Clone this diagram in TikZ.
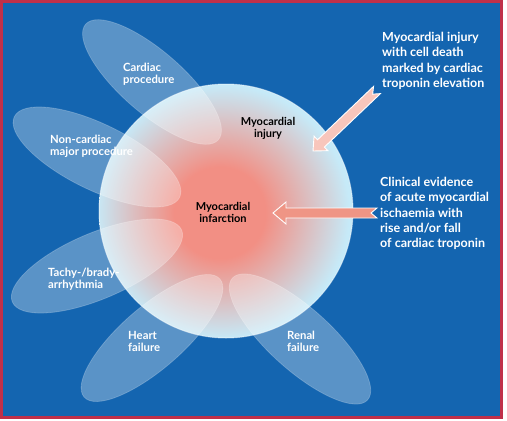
\documentclass[tikz,border=0pt]{standalone}
\usepackage{fontspec}
\setmainfont{Lato}
\usetikzlibrary{calc}
\definecolor{bgblue}{HTML}{1465B0}
\definecolor{framered}{HTML}{C0304A}
\definecolor{salmon}{HTML}{F28F84}
\definecolor{paleblue}{HTML}{C6EAF8}
\definecolor{arrowA}{HTML}{F8C6BC}
\definecolor{arrowB}{HTML}{EF9585}
\pgfdeclareradialshading{mishade}{\pgfpoint{-1.5bp}{-0.4bp}}{color(0bp)=(salmon); color(9bp)=(salmon); color(25bp)=(paleblue); color(50bp)=(paleblue)}
\tikzset{
  sidetext/.style={text=white, font=\bfseries\fontsize{12.5}{15.3}\selectfont, align=left, anchor=north west, inner sep=0pt},
  plabel/.style={text=white, font=\bfseries\fontsize{11.3}{11.8}\selectfont, align=left, anchor=north west, inner sep=0pt},
  clabel/.style={text=black, font=\bfseries\fontsize{11}{11.5}\selectfont, align=center, inner sep=0pt},
  petal/.style={fill=white, fill opacity=0.3, draw=white, draw opacity=0.2, line width=0.8pt},
  blockarrow/.style={draw=white, line width=0.9pt, line join=miter}
}
\begin{document}
\begin{tikzpicture}[x=1pt,y=-1pt]
\useasboundingbox (0,0) rectangle (507,421);
\fill[white] (0,0) rectangle (507,421);
\fill[bgblue] (1.5,1.5) rectangle (501.5,417);
\draw[framered, line width=3pt] (1.5,1.5) rectangle (501.5,417);

% central circle
\shade[shading=mishade] (226,211) circle (127pt);
\draw[white, opacity=0.45, line width=1pt] (226,211) circle (127pt);
\coordinate (ctr) at (226,211);

% petals
\path[petal, rotate around={-41:(152,82)}] (152,82) ellipse [x radius=88pt, y radius=31pt];
\path[petal, rotate around={-26:(97,157)}] (97,157) ellipse [x radius=92pt, y radius=33pt];
\path[petal, rotate around={23:(97,266)}] (97,266) ellipse [x radius=92pt, y radius=33pt];
\path[petal, rotate around={41:(152,338)}] (152,338) ellipse [x radius=90pt, y radius=31pt];
\path[petal, rotate around={-42:(300,339)}] (300,339) ellipse [x radius=91pt, y radius=31pt];

% petal labels
\node[plabel] (cardiac) at (123,63) {Cardiac\\procedure};
\node[plabel] (noncardiac) at (50,135) {Non-cardiac\\major procedure};
\node[plabel] (tachy) at (48,268) {Tachy-/brady-\\arrhythmia};
\node[plabel] (heart) at (128,331) {Heart\\failure};
\node[plabel] (renal) at (287,331) {Renal\\failure};

% circle labels
\node[clabel] (injury) at (268,128.5) {Myocardial\\injury};
\node[clabel] (infarct) at (223,212.5) {Myocardial\\infarction};

% side texts
\node[sidetext] (textA) at (382,32) {Myocardial injury\\with cell death\\marked by cardiac\\troponin elevation};
\node[sidetext] (textB) at (380,177) {Clinical evidence\\of acute myocardial\\ischaemia with\\rise and/or fall\\of cardiac troponin};

% arrow 1
\coordinate (t1) at (377,90);
\coordinate (p1) at (313,151);
\coordinate (h1) at ($(p1)!11pt!(t1)$);
\filldraw[blockarrow, fill=arrowA] (p1) -- ($(h1)!10pt!90:(p1)$) -- ($(h1)!5pt!90:(p1)$)
  -- ($(t1)!5pt!90:(p1)$) -- ($(t1)!6pt!(p1)$) -- ($(t1)!5pt!-90:(p1)$)
  -- ($(h1)!5pt!-90:(p1)$) -- ($(h1)!10pt!-90:(p1)$) -- cycle;

% arrow 2
\coordinate (t2) at (377,213);
\coordinate (p2) at (273,213);
\coordinate (h2) at ($(p2)!13pt!(t2)$);
\filldraw[blockarrow, fill=arrowB] (p2) -- ($(h2)!11pt!90:(p2)$) -- ($(h2)!5pt!90:(p2)$)
  -- ($(t2)!5pt!90:(p2)$) -- ($(t2)!6pt!(p2)$) -- ($(t2)!5pt!-90:(p2)$)
  -- ($(h2)!5pt!-90:(p2)$) -- ($(h2)!11pt!-90:(p2)$) -- cycle;
\end{tikzpicture}
\end{document}
